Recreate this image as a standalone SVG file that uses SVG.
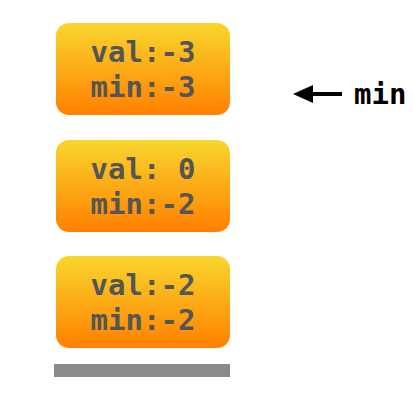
<svg xmlns="http://www.w3.org/2000/svg" width="414" height="409" viewBox="0 0 414 409">
<defs>
<linearGradient id="g" x1="0" y1="0" x2="0" y2="1">
<stop offset="0" stop-color="#F9D62E"/>
<stop offset="1" stop-color="#FF8000"/>
</linearGradient>
<style>
.box{fill:url(#g);}
.t{font-family:"DejaVu Sans Mono","Liberation Mono",monospace;font-weight:bold;font-size:29px;fill:#555;text-anchor:middle;}
.lbl{font-family:"DejaVu Sans Mono","Liberation Mono",monospace;font-weight:bold;font-size:29px;fill:#000;}
</style>
</defs>
<rect width="414" height="409" fill="#fff"/>
<g id="node1">
<rect class="box" x="56" y="23" width="174" height="92" rx="13"/>
<text class="t" x="143" y="62">val:-3</text>
<text class="t" x="143" y="97">min:-3</text>
</g>
<g id="node2">
<rect class="box" x="56" y="140" width="174" height="92" rx="13"/>
<text class="t" x="143" y="179" xml:space="preserve">val: 0</text>
<text class="t" x="143" y="214">min:-2</text>
</g>
<g id="node3">
<rect class="box" x="56" y="256" width="174" height="92" rx="13"/>
<text class="t" x="143" y="295">val:-2</text>
<text class="t" x="143" y="330">min:-2</text>
</g>
<g id="base">
<rect x="54" y="364" width="176" height="13" fill="#8a8a8a"/>
</g>
<g id="connectors">
<line x1="342" y1="94" x2="313" y2="94" stroke="#000" stroke-width="4"/>
<path d="M293,94 L313,85 L313,103 Z" fill="#000"/>
</g>
<g id="minlabel">
<text class="lbl" x="354" y="104">min</text>
</g>
</svg>
